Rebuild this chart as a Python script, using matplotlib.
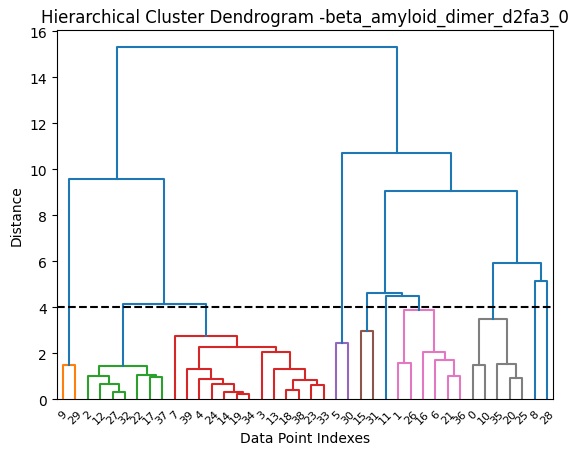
import matplotlib
matplotlib.use("Agg")
import matplotlib.pyplot as plt

# Merge table: (left child, right child, distance); ids >= 40 refer to earlier merges (40 + row index)
merge_left = [27, 12, 2, 17, 22, 42, 9, 19, 14, 24, 4, 39, 18, 23, 52, 13, 3, 51, 7, 45, 46,
              5, 15, 1, 21, 6, 16, 63, 11, 62, 0, 20, 35, 70, 8, 73, 69, 61, 60]
merge_right = [32, 40, 41, 37, 43, 44, 29, 34, 47, 48, 49, 50, 38, 33, 53, 54, 55, 56, 57, 58, 59,
               30, 31, 26, 36, 64, 65, 66, 67, 68, 10, 25, 71, 72, 28, 74, 75, 76, 77]
merge_height = [0.29, 0.66, 1.02, 0.95, 1.04, 1.42, 1.46, 0.21, 0.30, 0.66, 0.89, 1.29, 0.38, 0.59,
                0.82, 1.29, 2.03, 2.25, 2.76, 4.14, 9.58, 2.43, 2.95, 1.56, 0.99, 1.68, 2.03, 3.88,
                4.46, 4.61, 1.50, 0.91, 1.51, 3.46, 5.12, 5.93, 9.05, 10.72, 15.30]
n_leaves = 40
threshold = 4.0
title = "Hierarchical Cluster Dendrogram -beta_amyloid_dimer_d2fa3_0"

palette = ["C1", "C2", "C3", "C4", "C5", "C6", "C7", "C8", "C9"]

fig = plt.figure(figsize=(5.8, 4.56), dpi=100)
ax = fig.add_axes([0.0978, 0.1228, 0.8562, 0.8099])

leaf_order = []
segments = []  # (xs, ys, color)
color_idx = [0]


def layout(node, color):
    """Return (x, y) of node's top; collects segments."""
    if node < n_leaves:
        x = 5 + 10 * len(leaf_order)
        leaf_order.append(node)
        return x, 0.0
    i = node - n_leaves
    h = merge_height[i]
    if color is None and h < threshold:
        color = palette[color_idx[0] % len(palette)]
        color_idx[0] += 1
    c = color if color is not None else "C0"
    xl, yl = layout(merge_left[i], color)
    xr, yr = layout(merge_right[i], color)
    segments.append(([xl, xl, xr, xr], [yl, h, h, yr], c))
    return (xl + xr) / 2, h


root = n_leaves + len(merge_height) - 1
layout(root, None)

for xs, ys, c in segments:
    ax.plot(xs, ys, color=c, linewidth=1.5)

ax.axhline(y=threshold, color="black", linestyle="--", linewidth=1.5)

ax.set_xlim(0, 10 * n_leaves)
ax.set_ylim(0, max(merge_height) * 1.05)
ax.set_xticks([5 + 10 * k for k in range(n_leaves)])
ax.set_xticklabels([str(v) for v in leaf_order], rotation=45, fontsize=8)
for line in ax.get_xticklines():
    line.set_visible(False)
ax.set_title(title)
ax.set_xlabel("Data Point Indexes")
ax.set_ylabel("Distance")

fig.savefig("out.png", dpi=100)
